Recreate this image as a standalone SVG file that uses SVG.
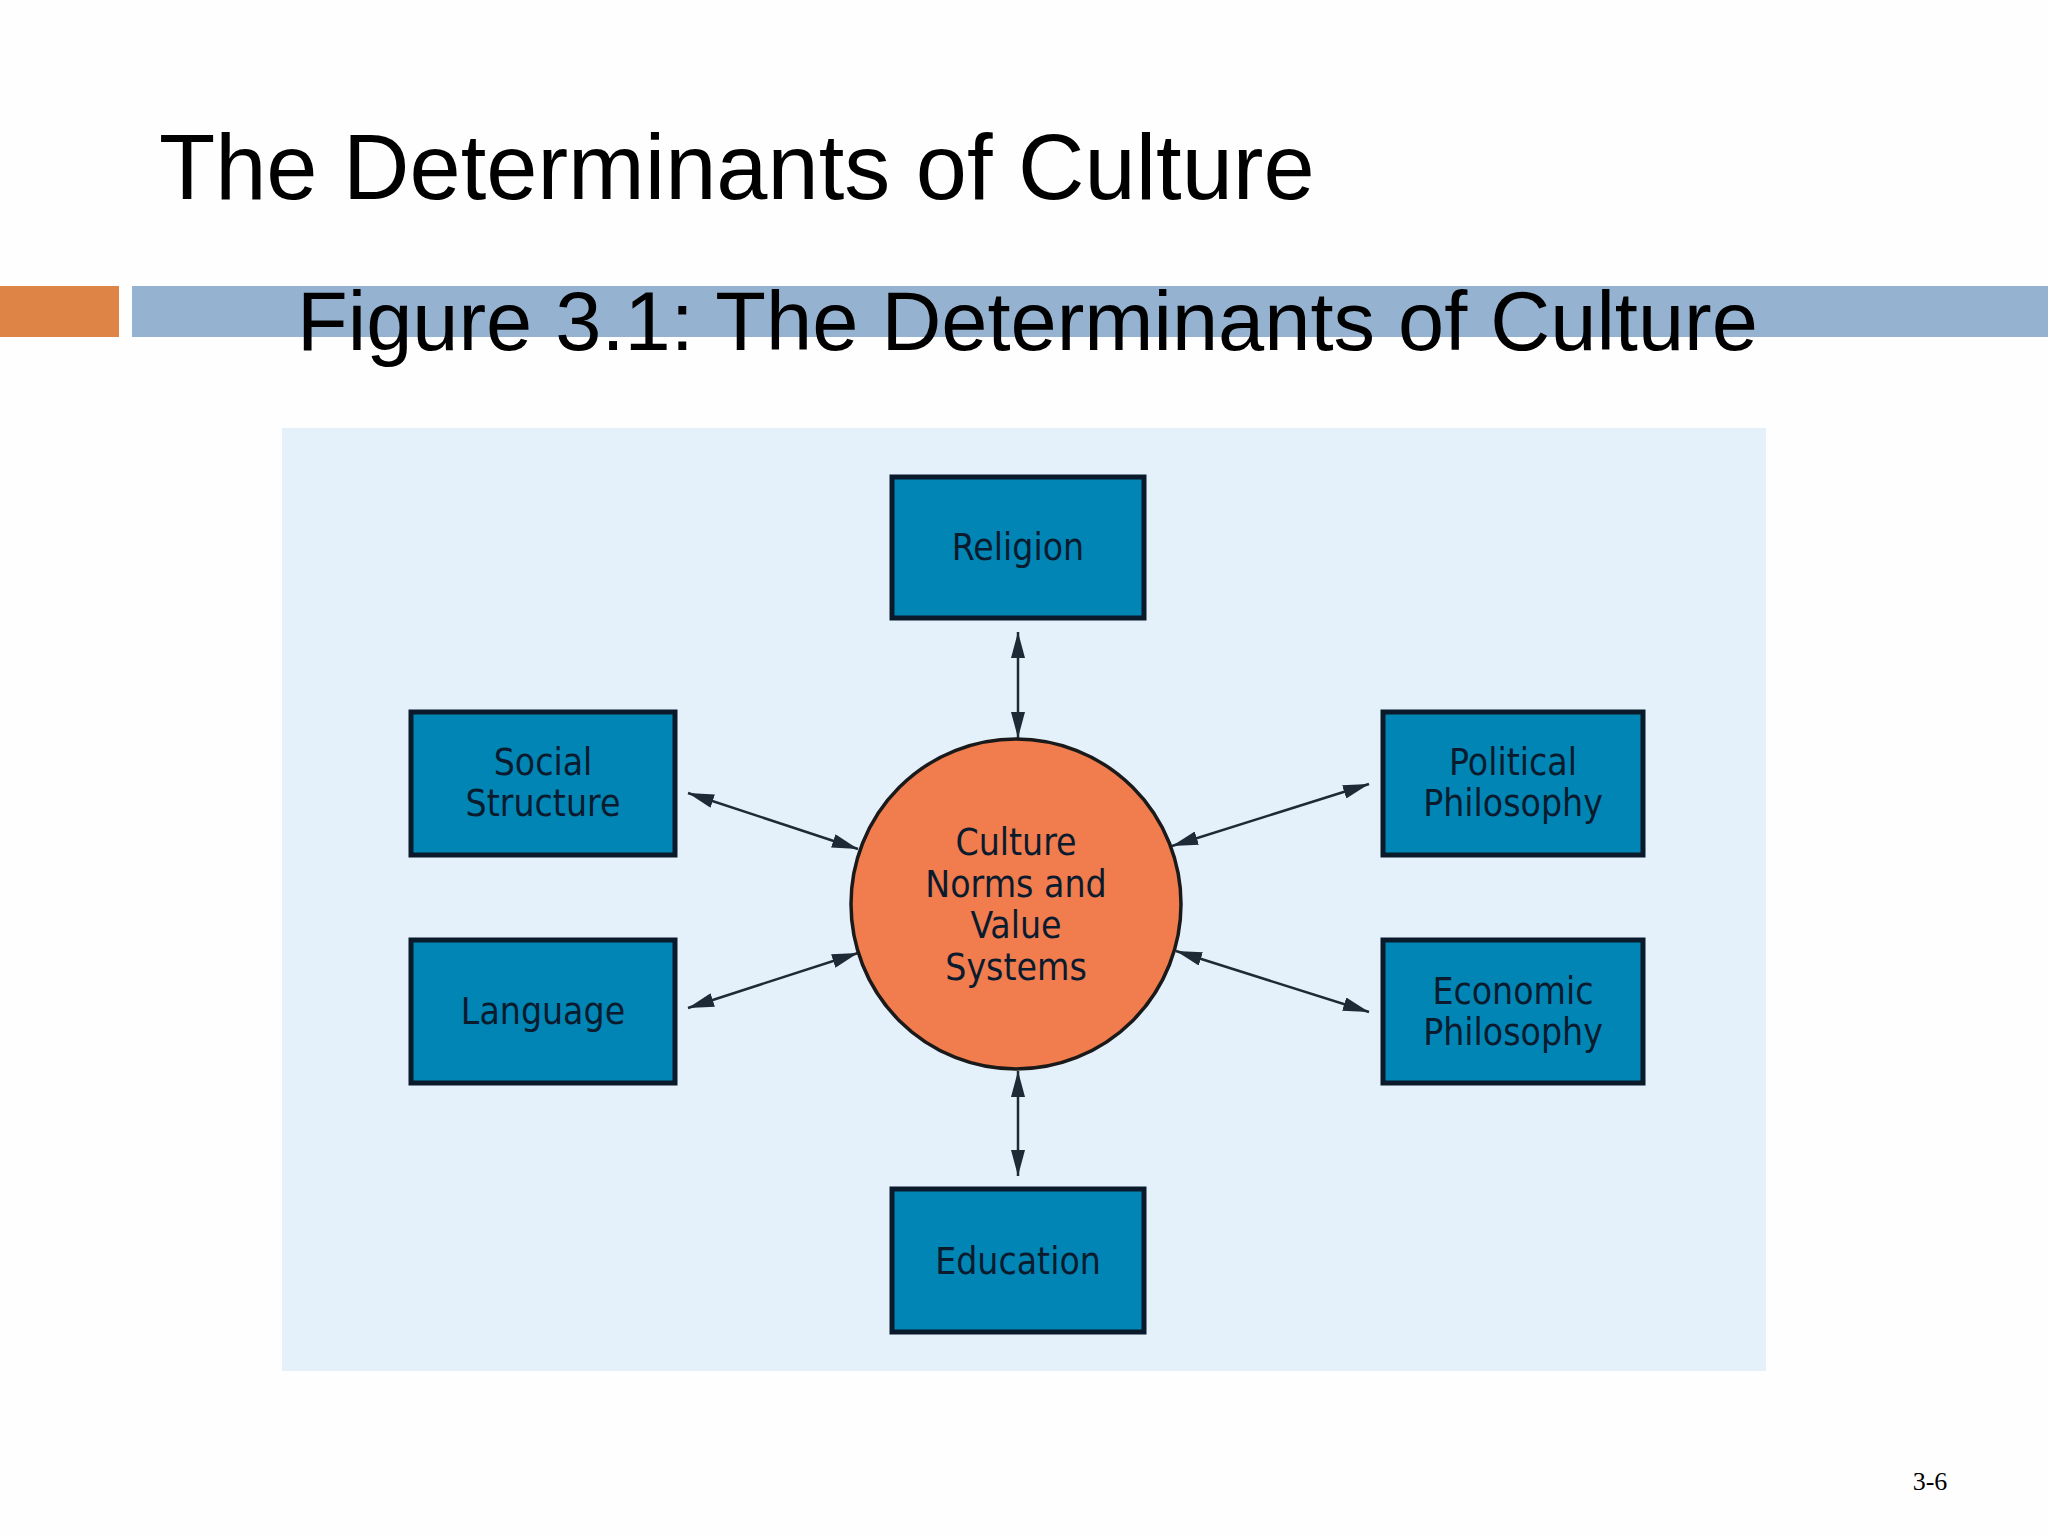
<svg xmlns="http://www.w3.org/2000/svg" width="2048" height="1536" viewBox="0 0 2048 1536">
<style>
.box{fill:#0085b5;stroke:#0a1a2a;stroke-width:5}
.lbl{font-family:"DejaVu Sans Condensed","DejaVu Sans",sans-serif;font-size:37px;fill:#0b1b2e;text-anchor:middle}
.con{stroke:#1e2a36;stroke-width:2.5;fill:none;marker-start:url(#ah);marker-end:url(#ah)}
</style>
<defs>
<marker id="ah" viewBox="0 0 10 10" refX="10" refY="5" markerWidth="8" markerHeight="8" markerUnits="userSpaceOnUse" orient="auto-start-reverse">
<path d="M0,0 L10,5 L0,10 z" fill="#1e2a36"/>
</marker>
<marker id="ah2" viewBox="0 0 10 10" refX="10" refY="5" markerWidth="26" markerHeight="14" markerUnits="userSpaceOnUse" orient="auto-start-reverse" preserveAspectRatio="none">
<path d="M0,0 L10,5 L0,10 z" fill="#1e2a36"/>
</marker>
</defs>
<rect width="2048" height="1536" fill="#fefefe"/>
<text x="159" y="199" font-family="Liberation Sans, Arial, sans-serif" font-size="92" fill="#000">The Determinants of Culture</text>
<rect x="0" y="286" width="119" height="51" fill="#dd8446"/>
<rect x="132" y="286" width="1916" height="51" fill="#95b3d0"/>
<text x="297" y="350" font-family="Liberation Sans, Arial, sans-serif" font-size="83" fill="#000">Figure 3.1: The Determinants of Culture</text>
<rect x="282" y="428" width="1484" height="943" fill="#e4f0fa"/>
<g id="connectors">
<line class="con" style="marker-start:url(#ah2);marker-end:url(#ah2)" x1="1018" y1="632" x2="1018" y2="738"/>
<line class="con" style="marker-start:url(#ah2);marker-end:url(#ah2)" x1="1018" y1="1071" x2="1018" y2="1176"/>
<line class="con" style="marker-start:url(#ah2);marker-end:url(#ah2)" x1="688" y1="793" x2="858" y2="849"/>
<line class="con" style="marker-start:url(#ah2);marker-end:url(#ah2)" x1="688" y1="1008" x2="858" y2="953"/>
<line class="con" style="marker-start:url(#ah2);marker-end:url(#ah2)" x1="1369" y1="784" x2="1172" y2="846"/>
<line class="con" style="marker-start:url(#ah2);marker-end:url(#ah2)" x1="1369" y1="1012" x2="1176" y2="951"/>
</g>
<g id="center">
<circle cx="1016" cy="904" r="165" fill="#f17c4e" stroke="#1a1a1a" stroke-width="3.5"/>
<text class="lbl" x="1016" y="855">Culture</text>
<text class="lbl" x="1016" y="897">Norms and</text>
<text class="lbl" x="1016" y="938">Value</text>
<text class="lbl" x="1016" y="980">Systems</text>
</g>
<g id="religion"><rect class="box" x="892" y="477" width="252" height="141"/><text class="lbl" x="1018" y="560">Religion</text></g>
<g id="social"><rect class="box" x="411" y="712" width="264" height="143"/><text class="lbl" x="543" y="775">Social</text><text class="lbl" x="543" y="816">Structure</text></g>
<g id="language"><rect class="box" x="411" y="940" width="264" height="143"/><text class="lbl" x="543" y="1024">Language</text></g>
<g id="political"><rect class="box" x="1383" y="712" width="260" height="143"/><text class="lbl" x="1513" y="775">Political</text><text class="lbl" x="1513" y="816">Philosophy</text></g>
<g id="economic"><rect class="box" x="1383" y="940" width="260" height="143"/><text class="lbl" x="1513" y="1004">Economic</text><text class="lbl" x="1513" y="1045">Philosophy</text></g>
<g id="education"><rect class="box" x="892" y="1189" width="252" height="143"/><text class="lbl" x="1018" y="1274">Education</text></g>
<text x="1930" y="1490" font-family="Liberation Serif, serif" font-size="26" fill="#000" text-anchor="middle">3-6</text>
</svg>
